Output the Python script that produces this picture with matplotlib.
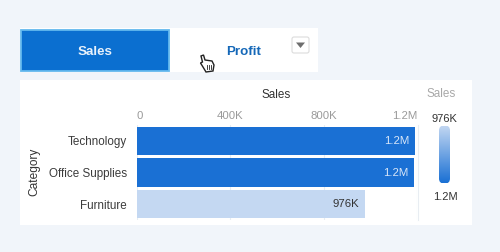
import numpy as np
import matplotlib
matplotlib.use('Agg')
import matplotlib.pyplot as plt
from matplotlib.patches import Rectangle, FancyBboxPatch, Polygon
from matplotlib.colors import LinearSegmentedColormap

categories = ['Technology', 'Office Supplies', 'Furniture']
sales = [1190000, 1186000, 976000]
bar_labels = ['1.2M', '1.2M', '976K']
tick_values = [0, 400000, 800000, 1200000]
tick_labels = ['0', '400K', '800K', '1.2M']
tab_labels = ['Sales', 'Profit']

W, H = 500, 252
plt.rcParams['font.family'] = ['Liberation Sans', 'DejaVu Sans']
fig = plt.figure(figsize=(W / 100, H / 100), dpi=100, facecolor='#f1f5fa')

# pixel-space overlay for the page furniture
bg = fig.add_axes([0, 0, 1, 1], zorder=0)
bg.set_xlim(0, W); bg.set_ylim(H, 0); bg.axis('off')
bg.add_patch(Rectangle((20, 28), 298, 44, fc='white', ec='none'))
bg.add_patch(Rectangle((20, 79.5), 452, 145.5, fc='white', ec='none'))
bg.add_patch(Rectangle((21, 30), 148, 41, fc='#0b6fd0', ec='#63b9ee', lw=1.3))
bg.text(94.5, 52, tab_labels[0], color='#e8f1fb', fontsize=9.6, fontweight='bold', ha='center', va='center')
bg.text(244, 52, tab_labels[1], color='#1568b8', fontsize=9.6, fontweight='bold', ha='center', va='center')
bg.add_patch(FancyBboxPatch((292, 37), 17, 16, boxstyle='round,pad=0,rounding_size=2', fc='white', ec='#dcdcdc', lw=0.8))
bg.add_patch(Polygon([[296, 42.5], [305, 42.5], [300.5, 48]], fc='#6e6e6e', ec='none'))
# hand cursor
bg.add_patch(Polygon([[201, 56], [203.5, 55], [205, 60], [212, 61], [214, 65], [213, 71], [206, 72],
                      [203, 67], [200.5, 63], [202.5, 62]], fc='white', ec='#222222', lw=1))
for x in (206.5, 208.5, 210.5):
    bg.plot([x, x], [65, 69], color='#222222', lw=0.6)

bg.text(276.5, 95, 'Sales', color='#333333', fontsize=8.4, ha='center', va='center')
bg.text(34.5, 171.5, 'Category', color='#333333', fontsize=8.6, rotation=90, ha='center', va='center')
bg.text(441, 94, 'Sales', color='#a8a8a8', fontsize=8.4, ha='center', va='center')
bg.text(444.5, 118.5, '976K', color='#333333', fontsize=8, ha='center', va='center')
bg.text(445, 197, '1.2M', color='#333333', fontsize=8, ha='center', va='center')
bg.plot([418, 418], [125, 220], color='#e8edf2', lw=0.8)

# main chart
ax = fig.add_axes([136.5 / W, 1 - 220 / H, (417 - 136.5) / W, 95 / H], zorder=2)
ax.patch.set_alpha(0)
y = np.arange(len(categories))
colors = ['#1a70d4', '#1a70d4', '#c4d8f2']
ax.barh(y, sales, height=0.89, color=colors, zorder=3)
ax.set_xlim(0, 1200000)
ax.set_ylim(2.5, -0.5)
ax.set_xticks(tick_values)
ax.set_xticklabels(tick_labels)
ax.xaxis.tick_top()
ax.set_yticks(y)
ax.set_yticklabels(categories)
ax.tick_params(axis='x', length=0, pad=3, labelsize=8.2, labelcolor='#9a9a9a')
ax.tick_params(axis='y', length=0, pad=7, labelsize=8.4, labelcolor='#3c3c3c')
for lab, ha in zip(ax.get_xticklabels(), ['left', 'center', 'center', 'right']):
    lab.set_ha(ha)
ax.grid(axis='x', color='#e8edf2', lw=0.8, zorder=1)
for s in ax.spines.values():
    s.set_visible(False)
for yi, v, t, c in zip(y, sales, bar_labels, ['#d8e6f8', '#d8e6f8', '#333333']):
    ax.annotate(t, (v, yi), xytext=(-3.8, 0), textcoords='offset points', ha='right', va='center',
                color=c, fontsize=8.2, zorder=4)

# gradient legend
cb = fig.add_axes([439 / W, 1 - 183.5 / H, 11 / W, 58 / H], zorder=2)
cmap = LinearSegmentedColormap.from_list('sales', ['#c4d8f2', '#1a70d4'])
im = cb.imshow(np.linspace(0, 1, 128)[:, None], aspect='auto', cmap=cmap, extent=[0, 11, 58, 0])
clip = FancyBboxPatch((0, 0), 11, 58, boxstyle='round,pad=0,rounding_size=5', transform=cb.transData, fc='none', ec='none')
cb.add_patch(clip)
im.set_clip_path(clip)
cb.axis('off')

fig.savefig('out.png', dpi=100, facecolor=fig.get_facecolor())
